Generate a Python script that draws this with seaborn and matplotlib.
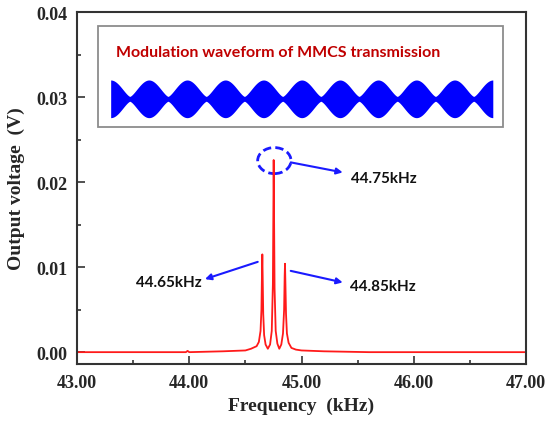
import numpy as np
import matplotlib
matplotlib.use("Agg")
import matplotlib.pyplot as plt
import seaborn as sns
from matplotlib.patches import Ellipse, Rectangle
from matplotlib.ticker import MultipleLocator, FormatStrFormatter

# spectrum (kHz, V)
freq = [43.00, 43.50, 43.97, 43.985, 44.00, 44.30, 44.50, 44.55, 44.60, 44.62,
        44.635, 44.643, 44.648, 44.651, 44.654, 44.659, 44.667, 44.68, 44.70,
        44.72, 44.735, 44.745, 44.750, 44.752, 44.755, 44.76, 44.77, 44.785,
        44.802, 44.82, 44.835, 44.845, 44.850, 44.853, 44.856, 44.862, 44.87,
        44.885, 44.91, 44.95, 45.00, 45.20, 45.60, 46.00, 46.50, 47.00]
volt = [0.0000, 0.0000, 0.0000, 0.00015, 0.0000, 0.0001, 0.0002, 0.0004, 0.0007, 0.0012,
        0.0025, 0.0050, 0.0095, 0.0115, 0.0090, 0.0045, 0.0020, 0.0009, 0.0004,
        0.0009, 0.0025, 0.0080, 0.0180, 0.0226, 0.0170, 0.0075, 0.0025, 0.0010,
        0.0004, 0.0009, 0.0022, 0.0050, 0.0090, 0.0104, 0.0085, 0.0045, 0.0022,
        0.0011, 0.0005, 0.0003, 0.0002, 0.0001, 0.0000, 0.0000, 0.0000, 0.0000]

peak_labels = ["44.65kHz", "44.75kHz", "44.85kHz"]
# (arrow tail, arrow head, label position) in data units
arrow_tail = [(44.610, 0.01062), (44.904, 0.02232), (44.904, 0.00956)]
arrow_head = [(44.140, 0.00859), (45.367, 0.02114), (45.367, 0.00820)]
label_pos = [(44.115, 0.00827), (45.445, 0.02047), (45.432, 0.00780)]
label_ha = ["right", "left", "left"]

# inset modulation waveform
n_lobes = 10
neck = 0.13   # width left at the nodes, as a share of full height
inset_title = "Modulation waveform of MMCS transmission"

sns.set_theme(style="ticks")
plt.rcParams["font.family"] = ["Liberation Serif", "DejaVu Serif"]

fig = plt.figure(figsize=(5.5, 4.31), dpi=100)
ax = fig.add_axes([0.14, 0.153, 0.8164, 0.8167])

sns.lineplot(x=freq, y=volt, color="#ff1a1a", lw=1.3, ax=ax)

ax.set_xlim(43, 47)
ax.set_ylim(-0.0014, 0.04)
ax.xaxis.set_major_locator(MultipleLocator(1))
ax.xaxis.set_minor_locator(MultipleLocator(0.5))
ax.yaxis.set_major_locator(MultipleLocator(0.01))
ax.yaxis.set_minor_locator(MultipleLocator(0.005))
ax.xaxis.set_major_formatter(FormatStrFormatter("%.2f"))
ax.yaxis.set_major_formatter(FormatStrFormatter("%.2f"))
ax.tick_params(which="both", direction="in", color="#333333", width=1.2)
ax.tick_params(which="major", length=6, pad=7)
ax.tick_params(which="minor", length=3)
for lab in ax.get_xticklabels() + ax.get_yticklabels():
    lab.set_fontweight("bold")
    lab.set_fontsize(13)
for sp in ax.spines.values():
    sp.set_visible(True)
    sp.set_color("#333333")
    sp.set_linewidth(1.5)

ax.set_xlabel("Frequency  (kHz)", fontsize=14, fontweight="bold", labelpad=4)
ax.set_ylabel("Output voltage  (V)", fontsize=14, fontweight="bold", labelpad=8)

# dashed ring on main peak
ax.add_patch(Ellipse((44.758, 0.02253), 0.297, 0.00306, fill=False,
                     ec="#1a1aff", lw=2, ls=(0, (3, 1.5))))

for txt, tail, head, pos, ha in zip(peak_labels, arrow_tail, arrow_head, label_pos, label_ha):
    ax.annotate("", xy=head, xytext=tail,
                arrowprops=dict(arrowstyle="-|>", color="#1a1aff", lw=1.5,
                                mutation_scale=9, shrinkA=0, shrinkB=0))
    ax.text(pos[0], pos[1], txt, ha=ha, va="center", fontsize=11,
            fontweight="bold", family=["Lato", "DejaVu Sans"], color="#111111")

# inset box
ax.add_patch(Rectangle((0.047, 0.673), 0.902, 0.287, transform=ax.transAxes,
                       fill=False, ec="#8c8c8c", lw=1.3))
ax.text(0.087, 0.886, inset_title, transform=ax.transAxes, ha="left", va="center",
        fontsize=11.5, fontweight="bold", family=["Lato", "DejaVu Sans"], color="#c00000")

wav = ax.inset_axes([0.075, 0.700, 0.851, 0.107])
t = np.linspace(0, n_lobes, 4000)
env = neck + (1 - neck) * (0.5 * (1 + np.cos(2 * np.pi * t))) ** 0.7
wav.fill_between(t, -env, env, color="#0000ff", lw=0)
wav.set_xlim(0, n_lobes)
wav.set_ylim(-1, 1)
wav.axis("off")

fig.savefig("out.png", dpi=100)
